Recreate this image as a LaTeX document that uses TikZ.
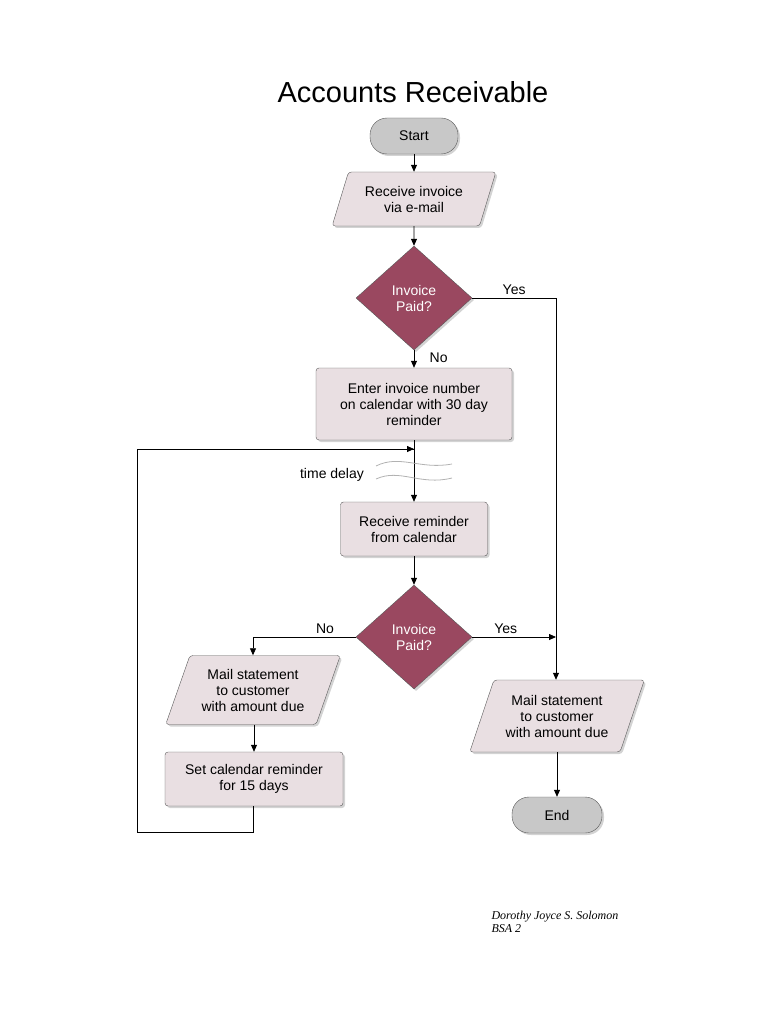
\documentclass[tikz,border=0pt]{standalone}
\usepackage{fontspec}
\setmainfont{Liberation Sans}
\newfontfamily\sig{Liberation Serif}
\usetikzlibrary{shapes.geometric,shadows,arrows.meta}
\definecolor{boxf}{HTML}{E9DFE2}
\definecolor{dia}{HTML}{9A4860}
\definecolor{pill}{HTML}{C8C8C8}
\begin{document}
\begin{tikzpicture}[x=1pt,y=-1pt,
  every node/.style={font=\fontsize{14}{16}\selectfont, align=center},
  sh/.style={drop shadow={shadow xshift=2pt,shadow yshift=-2pt,opacity=0.35}},
  box/.style={draw=gray!70!black, fill=boxf, rounded corners=3pt, sh, inner sep=0pt},
  pil/.style={draw=gray!70!black, fill=pill, rounded corners=17pt, sh, inner sep=0pt},
  dmd/.style={diamond, draw=gray!70!black, fill=dia, text=white, sh, inner sep=0pt, minimum width=116pt, minimum height=104pt},
  par/.style={trapezium, trapezium left angle=65, trapezium right angle=115, draw=gray!70!black, fill=boxf, sh, inner sep=0pt, trapezium stretches=true, rounded corners=3pt},
  ar/.style={-{Triangle[length=7pt,width=6pt]}, line width=0.8pt},
  ln/.style={line width=0.8pt},
  lbl/.style={font=\fontsize{14}{16}\selectfont}]
\useasboundingbox (0,0) rectangle (768,1024);
\node (title) at (413,92) {\fontsize{29}{32}\selectfont Accounts Receivable};
\node[pil, minimum width=88pt, minimum height=36pt] (start) at (414,136) {Start};
\node[par, minimum width=164pt, minimum height=54pt] (p1) at (414,199) {Receive invoice\\via e-mail};
\node[dmd] (d1) at (414,298) {Invoice\\Paid?};
\node[box, minimum width=196pt, minimum height=72pt] (r1) at (414,404) {Enter invoice number\\on calendar with 30 day\\reminder};
\node[box, minimum width=147pt, minimum height=54pt] (r2) at (414,529) {Receive reminder\\from calendar};
\node[dmd] (d2) at (414,637) {Invoice\\Paid?};
\node[par, minimum width=175pt, minimum height=69pt] (p2) at (253,690) {Mail statement\\to customer\\with amount due};
\node[box, minimum width=178pt, minimum height=54pt] (r3) at (254,779) {Set calendar reminder\\for 15 days};
\node[par, minimum width=175pt, minimum height=72pt] (p3) at (557,716) {Mail statement\\to customer\\with amount due};
\node[pil, minimum width=90pt, minimum height=36pt] (end) at (557,815) {End};

\coordinate (cy) at (556,298);
\coordinate (cj) at (556,637);
\coordinate (cl) at (253,637);
\coordinate (b1) at (253,832);
\coordinate (b2) at (137,832);
\coordinate (b3) at (137,449);
\coordinate (b4) at (414,449);

\draw[ar] (start) -- (p1);
\draw[ar] (p1) -- (d1);
\draw[ar] (d1) -- node[lbl, right, pos=0.45, xshift=12pt] {No} (r1);
\draw[ln] (d1.east) -- node[lbl, above, pos=0.5] {Yes} (cy);
\draw[ar] (cy) -- (p3.north -| cy);
\draw[ar] (r1) -- (r2);
\draw[ar] (r2) -- (d2);
\draw[ar] (d2.east) -- node[lbl, above, pos=0.4] {Yes} (cj);
\draw[ln] (d2.west) -- node[lbl, above, pos=0.3] {No} (cl);
\draw[ar] (cl) -- (p2.north -| cl);
\draw[ar] (p2.south -| r3.north) -- (r3);
\draw[ar] (p3.south -| end.north) -- (end);
\draw[ln] (r3.south -| b1) -- (b1) -- (b2) -- (b3) -- (b4);
\draw[-{Triangle[length=7pt,width=6pt]}, line width=0.8pt] (b3) -- (b4);
% time delay wavy lines
\draw[gray!60, line width=0.8pt] (376,466) .. controls (400,454) and (420,470) .. (452,464);
\draw[gray!60, line width=0.8pt] (376,479) .. controls (400,468) and (420,486) .. (452,478);
\node[lbl] (td) at (332,475) {time delay};
\node[anchor=west, font=\sig\itshape\fontsize{12}{13}\selectfont, align=left] (sg) at (488,922) {Dorothy Joyce S. Solomon\\BSA 2};
\end{tikzpicture}
\end{document}
